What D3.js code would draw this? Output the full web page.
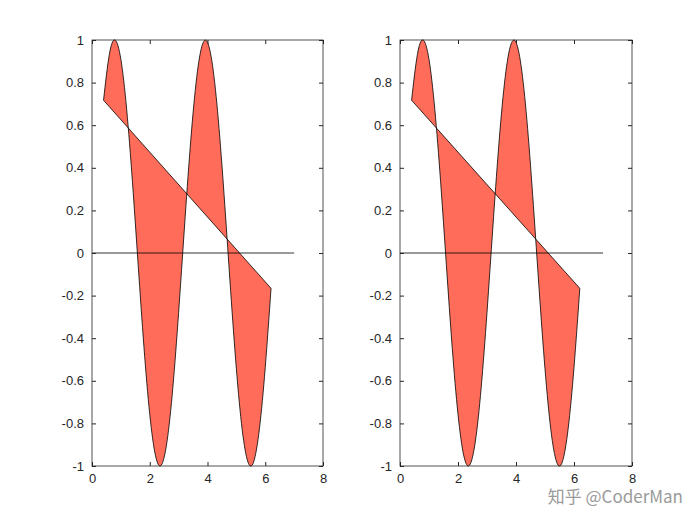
<!DOCTYPE html>
<html>
<head>
<meta charset="UTF-8" />
<script src="https://d3js.org/d3.v7.min.js"></script>
<style>
  body { margin: 0; background: #fff; }
  text { font-family: "Liberation Sans", Arial, sans-serif; }
</style>
</head>
<body>
<svg id="chart" width="700" height="525"></svg>
<script>
// curve samples
const xs = [0.4, 0.6, 0.8, 1.0, 1.2, 1.4, 1.6, 1.8, 2.0, 2.2, 2.4, 2.6, 2.8, 3.0, 3.2,
            3.4, 3.6, 3.8, 4.0, 4.2, 4.4, 4.6, 4.8, 5.0, 5.2, 5.4, 5.6, 5.8, 6.0, 6.2];
const ys = [0.717, 0.932, 1.0, 0.909, 0.675, 0.335, -0.058, -0.443, -0.757, -0.952,
            -0.996, -0.883, -0.631, -0.279, 0.117, 0.494, 0.794, 0.968, 0.989, 0.855,
            0.585, 0.223, -0.175, -0.544, -0.828, -0.981, -0.980, -0.823, -0.537, -0.166];
const zeroLine = [[0, 0], [7, 0]];
const xTicks = [0, 2, 4, 6, 8];
const yTicks = [-1, -0.8, -0.6, -0.4, -0.2, 0, 0.2, 0.4, 0.6, 0.8, 1];

const svg = d3.select('#chart');
const panels = [{ left: 92, right: 323 }, { left: 400, right: 632 }];
const plotTop = 40, plotBottom = 466;

panels.forEach(p => {
  const x = d3.scaleLinear().domain([0, 8]).range([p.left, p.right]);
  const y = d3.scaleLinear().domain([-1, 1]).range([plotBottom, plotTop]);
  const g = svg.append('g');

  const pts = xs.map((v, i) => [v, ys[i]]);
  const curve = d3.line().x(d => x(d[0])).y(d => y(d[1])).curve(d3.curveNatural)(pts);
  g.append('path').attr('d', curve + 'Z')
    .attr('fill', '#FF6C59').attr('stroke', '#000').attr('stroke-width', 0.8);

  g.append('path').attr('d', d3.line().x(d => x(d[0])).y(d => y(d[1]))(zeroLine))
    .attr('stroke', '#000').attr('stroke-width', 0.8);

  // box
  g.append('rect').attr('x', p.left).attr('y', plotTop)
    .attr('width', p.right - p.left).attr('height', plotBottom - plotTop)
    .attr('fill', 'none').attr('stroke', '#262626').attr('stroke-width', 0.8);

  const fmt = d => String(+d.toFixed(1));
  const axB = d3.axisBottom(x).tickValues(xTicks).tickSize(-4).tickPadding(8).tickFormat(fmt);
  const axT = d3.axisTop(x).tickValues(xTicks).tickSize(-4).tickFormat('');
  const axL = d3.axisLeft(y).tickValues(yTicks).tickSize(-4).tickPadding(8).tickFormat(fmt);
  const axR = d3.axisRight(y).tickValues(yTicks).tickSize(-4).tickFormat('');
  [[axB, `translate(0,${plotBottom})`], [axT, `translate(0,${plotTop})`],
   [axL, `translate(${p.left},0)`], [axR, `translate(${p.right},0)`]].forEach(([a, t]) => {
    const ag = g.append('g').attr('transform', t).call(a);
    ag.select('.domain').remove();
    ag.selectAll('line').attr('stroke', '#262626');
    ag.selectAll('text').attr('font-size', 13).attr('fill', '#262626')
      .style('font-family', '"Liberation Sans", Arial, sans-serif');
  });
});

svg.append('text').attr('x', 683).attr('y', 503).attr('text-anchor', 'end')
  .attr('font-size', 17).attr('fill', '#9a9a9a')
  .style('font-family', '"Noto Sans CJK SC", sans-serif')
  .text('知乎 @CoderMan');
</script>
</body>
</html>
